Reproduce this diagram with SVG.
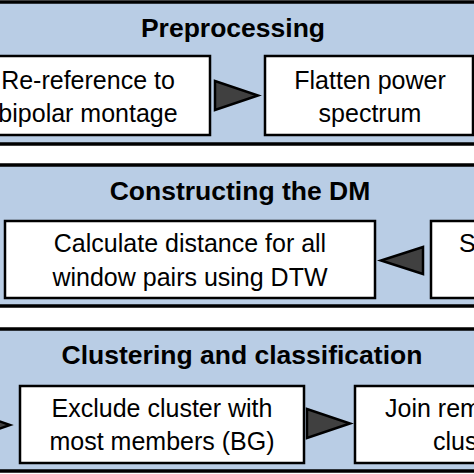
<svg xmlns="http://www.w3.org/2000/svg" width="474" height="474" viewBox="0 0 474 474">
  <style>
    .panel { fill: #b9cde5; stroke: #000; stroke-width: 3.5; }
    .box { fill: #fff; stroke: #000; stroke-width: 2.5; }
    .arrow { fill: #404040; stroke: #000; stroke-width: 2.5; stroke-linejoin: miter; }
    .title { font-family: "Liberation Sans", Arial, sans-serif; font-weight: bold; font-size: 26.5px; fill: #000; text-anchor: middle; }
    .label { font-family: "Liberation Sans", Arial, sans-serif; font-size: 25px; fill: #000; text-anchor: middle; }
    .start { text-anchor: start; }
  </style>

  <rect width="474" height="474" fill="#fff"/>

  <!-- Stage panels -->
  <g id="panel-preprocessing">
    <rect class="panel" x="-10" y="2" width="494" height="142"/>
    <text class="title" x="233" y="37">Preprocessing</text>
  </g>
  <g id="panel-dm">
    <rect class="panel" x="-10" y="165" width="494" height="141"/>
    <text class="title" x="240" y="200">Constructing the DM</text>
  </g>
  <g id="panel-clustering">
    <rect class="panel" x="-10" y="329" width="494" height="142"/>
    <text class="title" x="242" y="364">Clustering and classification</text>
  </g>

  <!-- Step boxes -->
  <g id="node-rereference">
    <rect class="box" x="-34" y="56" width="244" height="79"/>
    <text class="label" x="88" y="89">Re-reference to</text>
    <text class="label" x="88" y="122">bipolar montage</text>
  </g>
  <g id="node-flatten">
    <rect class="box" x="265" y="56" width="208" height="79"/>
    <text class="label" x="370" y="89">Flatten power</text>
    <text class="label" x="370" y="122">spectrum</text>
  </g>
  <g id="node-dtw">
    <rect class="box" x="5" y="221" width="370" height="77"/>
    <text class="label" x="190" y="252">Calculate distance for all</text>
    <text class="label" x="190" y="286">window pairs using DTW</text>
  </g>
  <g id="node-segment">
    <rect class="box" x="431" y="221" width="60" height="77"/>
    <text class="label start" x="459" y="252">S</text>
  </g>
  <g id="node-exclude">
    <rect class="box" x="20" y="386" width="284" height="77"/>
    <text class="label" x="162" y="417">Exclude cluster with</text>
    <text class="label" x="162" y="450">most members (BG)</text>
  </g>
  <g id="node-join">
    <rect class="box" x="355" y="386" width="140" height="77"/>
    <text class="label start" x="385" y="417">Join rem</text>
    <text class="label start" x="433" y="450">clus</text>
  </g>

  <!-- Connectors: flow arrowheads between steps -->
  <g id="connectors">
    <polygon class="arrow" points="215,81 215,110 258,95.5"/>
    <polygon class="arrow" points="423,247 423,274 381,260.5"/>
    <polygon class="arrow" points="-33,410 -33,440 10,425"/>
    <polygon class="arrow" points="307,409 307,438 350,423.5"/>
  </g>
</svg>
